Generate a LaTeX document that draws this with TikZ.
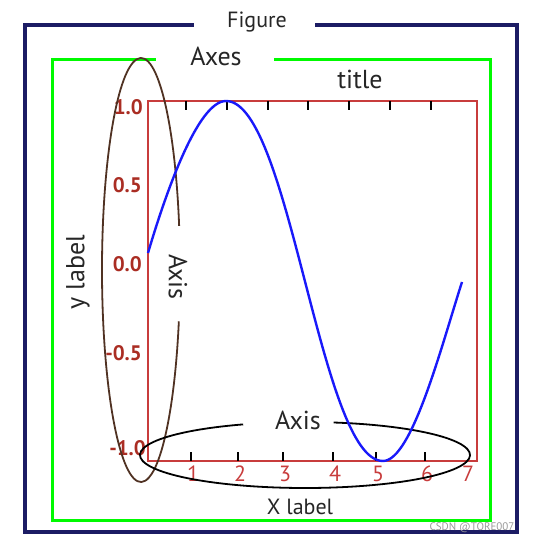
\documentclass[tikz,border=0pt]{standalone}
\usepackage{fontspec}
\setmainfont{PT Sans}
\usetikzlibrary{positioning}
\definecolor{figblue}{RGB}{28,28,100}
\definecolor{axgreen}{RGB}{0,250,0}
\definecolor{boxred}{RGB}{200,60,60}
\definecolor{numred}{RGB}{170,45,35}
\definecolor{curveblue}{RGB}{25,25,250}
\definecolor{ringbrown}{RGB}{80,50,35}

\begin{document}
\begin{tikzpicture}[x=1pt,y=1pt,
  big/.style={font=\fontsize{22}{26}\selectfont, text=black!85},
  huge/.style={font=\fontsize{26}{30}\selectfont, text=black!85},
  ynum/.style={font=\fontsize{21}{24}\selectfont\bfseries, text=numred, inner sep=0pt, anchor=east},
  xnum/.style={font=\fontsize{22}{26}\selectfont, text=boxred, inner sep=0pt},
  figframe/.style={draw=figblue, line width=3.5pt},
  axframe/.style={draw=axgreen, line width=3pt},
  plotbox/.style={draw=boxred, line width=2pt},
  tick/.style={draw=black, line width=1.8pt},
  ring/.style={line width=1.8pt}]
\useasboundingbox (0,0) rectangle (535,544);

% figure and axes frames, open at the top for their names
\node [big] (figure) at (257,522) {Figure};
\coordinate (ftl) at (25,519);
\coordinate (fbr) at (517,12);
\draw [figframe] ([xshift=-30pt]figure.west |- ftl) -- (ftl) |- (fbr) |- ([xshift=25pt]figure.east |- ftl);

\node [huge] (axes) at (216,488) {Axes};
\coordinate (atl) at (52,484);
\coordinate (abr) at (490,23);
\draw [axframe] ([xshift=-31pt]axes.west |- atl) -- (atl) |- (abr) |- ([xshift=29pt]axes.east |- atl);

\node [huge] (title) at (360,465) {title};

% the plot box
\coordinate (origin) at (148,83);
\coordinate (corner) at (477,443);
\draw [plotbox] (origin) rectangle (corner);

\foreach \x in {186,227,268,308,349,390,431}
  \draw [tick] (\x,443) -- ++(0,-9);
\foreach \x/\t in {191/1,238/2,283/3,333/4,376/5,425/6}
{
  \draw [tick] (\x,83) -- ++(0,9);
  \node [xnum] at (\x+2,70) {\t};
}
\node [xnum] (xmax) at (468,70) {7};

\node [ynum] (ytop) at (143,437) {1.0};
\node [ynum] at (142,359) {0.5};
\node [ynum] at (142,280) {0.0};
\node [ynum] at (142,191) {-0.5};
\node [ynum] (ybot) at (146,96) {-1.0};

% the two axis rings
\coordinate (yring) at (141,274);
\draw [ring, ringbrown] ([shift={(12:39 and 212)}]yring) arc [start angle=12, end angle=346, x radius=39, y radius=212];
\node [huge] (yaxis) at (178,267) [rotate=-90] {Axis};

\coordinate (xring) at (305,89);
\draw [ring, black] ([shift={(112:165 and 33)}]xring) arc [start angle=112, end angle=440, x radius=165, y radius=33];
\node [huge] (xaxis) at (298,124) {Axis};

% the curve
\draw [curveblue, line width=2.4pt] (148,291)
  .. controls (166,352) and (198,443) .. (226,443)
  .. controls (290,443) and (320,83) .. (383,83)
  .. controls (412,83) and (442,200) .. (462,262);

% labels
\node [huge] (ylabel) at (78,272) [rotate=90] {y label};
\node [big] (xlabel) at (300,37) {X label};
\node [font=\fontsize{11}{13}\selectfont, text=black!40] (mark) at (472,16) {CSDN @TORE007};
\end{tikzpicture}
\end{document}
